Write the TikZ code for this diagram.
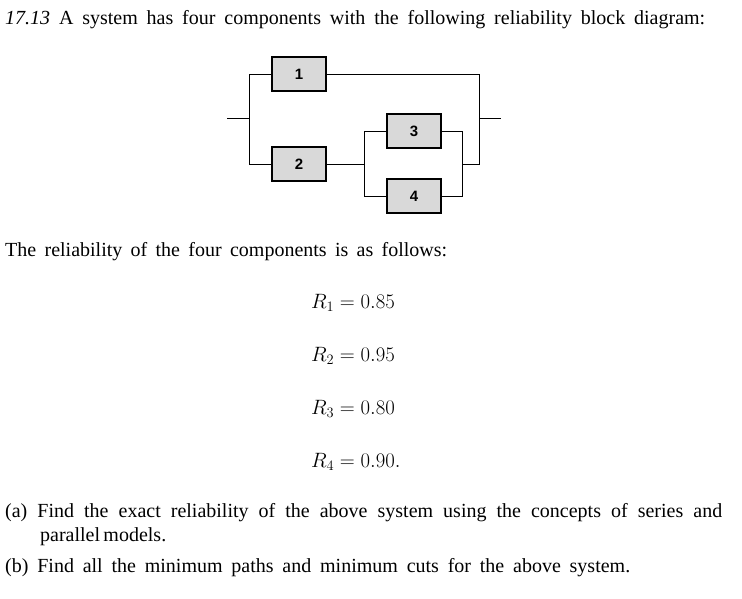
\documentclass[tikz,border=0pt]{standalone}
\usepackage{fontspec}
\setmainfont{Liberation Serif}
\newfontfamily\boxfont{Liberation Sans}
\begin{document}
\begin{tikzpicture}[x=1pt,y=-1pt,
  blk/.style={draw,line width=1.3pt,fill=black!15,minimum width=54pt,minimum height=34pt,font=\boxfont\bfseries\fontsize{15}{17}\selectfont},
  wire/.style={line width=0.8pt},
  txt/.style={anchor=base west,inner sep=0pt,font=\fontsize{20}{23}\selectfont},
  mth/.style={anchor=base west,inner sep=0pt,font=\fontsize{22}{25}\selectfont}]
\useasboundingbox (0,0) rectangle (742,598);
\node[txt] (title) at (5,24) {\makebox[700pt][s]{\textit{17.13} A system has four components with the following reliability block diagram:}};
\node[blk] (b1) at (299,74) {1};
\node[blk] (b2) at (299,164) {2};
\node[blk] (b3) at (414,131) {3};
\node[blk] (b4) at (414,196) {4};
\coordinate (in) at (227,118);
\coordinate (out) at (501,118);
\draw[wire] (in) -- (249,118);
\draw[wire] (249,74) -- (b1.west);
\draw[wire] (249,164) -- (b2.west);
\draw[wire] (249,74) -- (249,164);
\draw[wire] (b1.east) -- (479,74) -- (479,164) -- (462,164);
\draw[wire] (479,118) -- (out);
\draw[wire] (b2.east) -- (364,164);
\draw[wire] (364,131) -- (364,196);
\draw[wire] (364,131) -- (b3.west);
\draw[wire] (364,196) -- (b4.west);
\draw[wire] (b3.east) -- (462,131) -- (462,196) -- (b4.east);
\node[txt] (rel) at (5,256) {\makebox[442pt][s]{The reliability of the four components is as follows:}};
\node[mth] (r1) at (311,308) {$R_1 = 0.85$};
\node[mth] (r2) at (311,361) {$R_2 = 0.95$};
\node[mth] (r3) at (311,414) {$R_3 = 0.80$};
\node[mth] (r4) at (311,467) {$R_4 = 0.90.$};
\node[txt] (qa) at (5,517) {\makebox[717pt][s]{(a) Find the exact reliability of the above system using the concepts of series and}};
\node[txt] (qa2) at (40,541) {\makebox[110pt][s]{parallel models.}};
\node[txt] (qb) at (5,572) {\makebox[625pt][s]{(b) Find all the minimum paths and minimum cuts for the above system.}};
\end{tikzpicture}
\end{document}
